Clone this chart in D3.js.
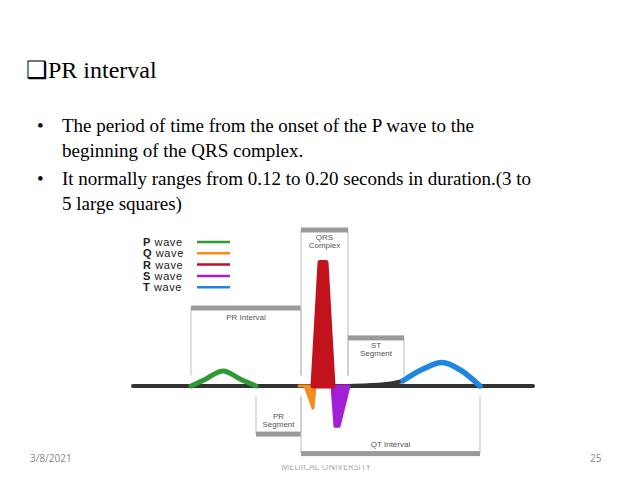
<!DOCTYPE html>
<html><head><meta charset="utf-8">
<script src="https://cdn.jsdelivr.net/npm/d3@7"></script>
<style>body{margin:0;background:#fff}svg{display:block}</style>
</head><body>
<script>
const bullets = ["The period of time from the onset of the P wave to the|beginning of the QRS complex.",
 "It normally ranges from 0.12 to 0.20 seconds in duration.(3 to|5 large squares)"];
const legendNames = ["P","Q","R","S","T"];
const legendColors = ["#2f9a33","#f58d1e","#c2121c","#a21fd6","#1f86e0"];
// waves: [time offset, amplitude]
const baseline = [[0,0],[400,0]];
const pWave = [[58,0],[72,0.25],[90,0.58],[108,0.25],[123,0]];
const qWave = [[166,0],[172,0],[180,-0.85],[182,0]];
const rWave = [[180,0],[187,4.75],[193,4.75],[200,0]];
const sWave = [[199,0],[202,-1.55],[206,-1.55],[216,0],[209,0]];
const stSeg = [[215,0],[255,0.05],[270,0.2]];
const tWave = [[270,0.2],[290,0.65],[309,0.9],[328,0.6],[347,0]];
// interval brackets: [label, x0, x1, barLevel]
const upper = [["PR Interval",58,168,3.0],["QRS|Complex",168,215,6.0],["ST|Segment",215,271,1.85]];
const lower = [["PR|Segment",123,168,-1.85],["QT Interval",168,347,-2.6]];

const W=638,H=478;
const svg=d3.select("body").append("svg").attr("width",W).attr("height",H);
const x=d3.scaleLinear().domain([0,400]).range([133,533]);
const y=d3.scaleLinear().domain([-2,5]).range([438,256]);
const serif="'Liberation Serif','Times New Roman',serif";

svg.append("text").attr("x",26).attr("y",78).attr("font-family",serif).attr("font-size",24).attr("fill","#000")
  .text("❑PR interval");
const rows=[132,157,185,210];
bullets.forEach((b,i)=>{
  const [a,c]=b.split("|");
  svg.append("text").attr("x",37).attr("y",rows[i*2]).attr("font-family",serif).attr("font-size",19).text("•");
  svg.append("text").attr("x",62).attr("y",rows[i*2]).attr("font-family",serif).attr("font-size",19).text(a);
  svg.append("text").attr("x",62).attr("y",rows[i*2+1]).attr("font-family",serif).attr("font-size",19).text(c);
});
const sans="'Liberation Sans',Arial,sans-serif";
svg.append("text").attr("x",30).attr("y",462).attr("font-family","'Open Sans',sans-serif").attr("font-size",10).attr("fill","#888").text("3/8/2021");
svg.append("text").attr("x",590).attr("y",462).attr("font-family","'Open Sans',sans-serif").attr("font-size",10).attr("fill","#888").text("25");
svg.append("text").attr("x",326).attr("y",470).attr("text-anchor","middle").attr("font-family","'Open Sans',sans-serif").attr("font-size",9).attr("fill","#aaa").text("MEDICAL UNIVERSITY");
svg.append("rect").attr("x",128).attr("y",224).attr("width",412).attr("height",241).attr("fill","#fff");

const g=svg.append("g");
function lab(t,cx,ty){
  t.split("|").forEach((s,i)=>g.append("text").attr("x",cx).attr("y",ty+i*8).attr("text-anchor","middle")
    .attr("font-family",sans).attr("font-size",8).attr("fill","#555").text(s));
}
upper.forEach(([t,a,b,lv])=>{
  [a,b].forEach(v=>g.append("line").attr("x1",x(v)).attr("x2",x(v)).attr("y1",y(lv)).attr("y2",y(0.4)).attr("stroke","#c8c8c8").attr("stroke-width",1.2));
  g.append("rect").attr("x",x(a)).attr("y",y(lv)-2.5).attr("width",x(b)-x(a)).attr("height",5).attr("fill","#9a9a9a");
  lab(t,(x(a)+x(b))/2,y(lv)+ (t.includes("|")?10:12));
});
lower.forEach(([t,a,b,lv])=>{
  [a,b].forEach(v=>g.append("line").attr("x1",x(v)).attr("x2",x(v)).attr("y1",y(-0.4)).attr("y2",y(lv)).attr("stroke","#c8c8c8").attr("stroke-width",1.2));
  g.append("rect").attr("x",x(a)).attr("y",y(lv)-2.5).attr("width",x(b)-x(a)).attr("height",5).attr("fill","#9a9a9a");
  lab(t,(x(a)+x(b))/2,y(lv)-(t.includes("|")?15:7));
});

const line=d3.line().x(d=>x(d[0])).y(d=>y(d[1]));
const mono=d3.line().x(d=>x(d[0])).y(d=>y(d[1])).curve(d3.curveMonotoneX);
const smooth=d3.line().x(d=>x(d[0])).y(d=>y(d[1])).curve(d3.curveBasis);
function draw(data,gen,c,w){svg.append("path").attr("d",gen(data)).attr("fill","none").attr("stroke",c).attr("stroke-width",w).attr("stroke-linejoin","round").attr("stroke-linecap","round");}
function fillp(data,c,w){svg.append("path").attr("d",line(data)+"Z").attr("fill",c).attr("stroke",c).attr("stroke-width",w).attr("stroke-linejoin","round");}
draw(baseline,line,"#333",4);
draw(stSeg,smooth,"#333",4);
draw(pWave,mono,legendColors[0],5);
draw(tWave,mono,legendColors[4],5.5);
fillp(qWave,legendColors[1],3);
fillp(sWave,legendColors[3],3);
fillp(rWave,legendColors[2],5);

legendNames.forEach((n,i)=>{
  const ly=242+i*11.3;
  const t=svg.append("text").attr("x",143).attr("y",ly+4).attr("font-family",sans).attr("font-size",11).attr("letter-spacing",0.6).attr("fill","#222");
  t.append("tspan").attr("font-weight","bold").text(n);
  t.append("tspan").text(" wave");
  svg.append("line").attr("x1",197).attr("x2",230).attr("y1",ly).attr("y2",ly).attr("stroke",legendColors[i]).attr("stroke-width",2.5);
});
</script>
</body></html>
